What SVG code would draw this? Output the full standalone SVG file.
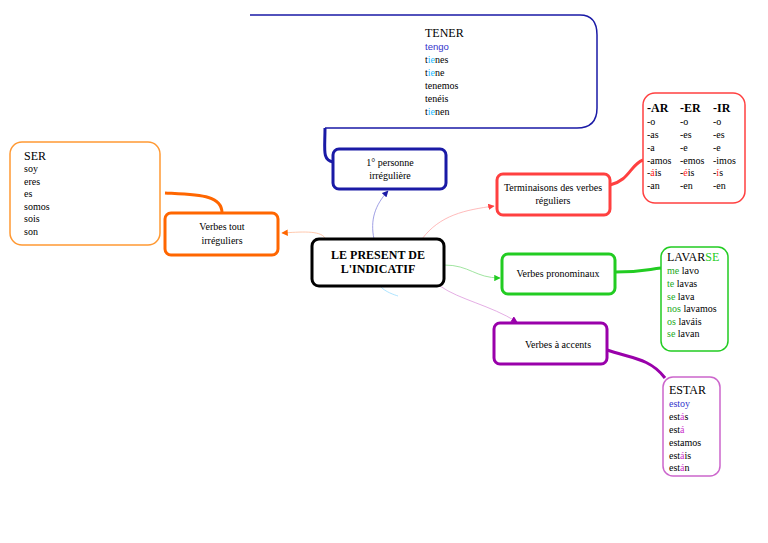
<svg xmlns="http://www.w3.org/2000/svg" width="768" height="543" viewBox="0 0 768 543">
<style>
text{font-family:"Liberation Serif",serif;font-size:10px;fill:#000}
.t{font-size:12px}
.c{text-anchor:middle}
.b{fill:#fff;stroke-width:3}
.s{fill:#fff;stroke-width:1.5}
</style>
<defs>
<marker id="ab" viewBox="0 0 10 10" refX="9" refY="5" markerWidth="8" markerHeight="8" orient="auto"><path d="M0,0L10,5L0,10z" fill="#1a1aa6"/></marker>
<marker id="ar" viewBox="0 0 10 10" refX="9" refY="5" markerWidth="8" markerHeight="8" orient="auto"><path d="M0,0L10,5L0,10z" fill="#ff4040"/></marker>
<marker id="ag" viewBox="0 0 10 10" refX="9" refY="5" markerWidth="8" markerHeight="8" orient="auto"><path d="M0,0L10,5L0,10z" fill="#22cc22"/></marker>
<marker id="ap" viewBox="0 0 10 10" refX="9" refY="5" markerWidth="8" markerHeight="8" orient="auto"><path d="M0,0L10,5L0,10z" fill="#9900aa"/></marker>
<marker id="ao" viewBox="0 0 10 10" refX="9" refY="5" markerWidth="8" markerHeight="8" orient="auto"><path d="M0,0L10,5L0,10z" fill="#ff6600"/></marker>
</defs>
<g id="connectors" fill="none">
<path d="M374,239 C370,220 375,205 388,191" stroke="#8888dd" stroke-width="0.8" marker-end="url(#ab)"/>
<path d="M422,239 C440,215 465,210 494,206" stroke="#ffaaaa" stroke-width="0.8" marker-end="url(#ar)"/>
<path d="M444,265 C470,265 475,278 500,278" stroke="#88dd88" stroke-width="0.8" marker-end="url(#ag)"/>
<path d="M440,286 C460,300 490,305 517,322" stroke="#dd99dd" stroke-width="0.8" marker-end="url(#ap)"/>
<path d="M325,238 C320,230 300,232 282,233" stroke="#ffbb99" stroke-width="0.8" marker-end="url(#ao)"/>
<path d="M380,286 C385,292 395,295 398,296" stroke="#99ddff" stroke-width="0.8"/>
<path d="M333,162 C322,160 325,150 325,128" stroke="#1a1aa6" stroke-width="3"/>
<path d="M610,185 C630,180 630,165 643,160" stroke="#ff4040" stroke-width="3"/>
<path d="M615,272 C640,272 645,270 661,268" stroke="#22cc22" stroke-width="3"/>
<path d="M607,350 C630,358 650,358 665,378" stroke="#9900aa" stroke-width="3"/>
<path d="M222,213 C222,195 200,195 165,193" stroke="#ff6600" stroke-width="3"/>
</g>
<g id="tener">
<path d="M250,15 H580 Q597,15 597,35 V108 Q597,128 577,128 H325" fill="#fff" stroke="#1a1aa6" stroke-width="1.5"/>
<text x="425" y="37" class="t">TENER</text>
<text x="425" y="50" fill="#3333cc" style="fill:#3333cc;font-family:'Liberation Sans',sans-serif;font-size:9.5px">tengo</text>
<text x="425" y="63">t<tspan style="fill:#22bbff">ie</tspan>nes</text>
<text x="425" y="76">t<tspan style="fill:#22bbff">ie</tspan>ne</text>
<text x="425" y="89">tenemos</text>
<text x="425" y="102">tenéis</text>
<text x="425" y="115">t<tspan style="fill:#22bbff">ie</tspan>nen</text>
</g>
<g id="premiere">
<rect x="333" y="149" width="113" height="40" rx="6" class="b" stroke="#1a1aa6"/>
<text x="390" y="166" class="c">1° personne</text>
<text x="390" y="179" class="c">irrégulière</text>
</g>
<g id="centre">
<rect x="312" y="239" width="132" height="47" rx="7" class="b" stroke="#000"/>
<text x="378" y="259" class="c t" font-weight="bold">LE PRESENT DE</text>
<text x="378" y="273" class="c t" font-weight="bold">L'INDICATIF</text>
</g>
<g id="terminaisons">
<rect x="497" y="174" width="113" height="41" rx="6" class="b" stroke="#ff4040"/>
<text x="553" y="191" class="c">Terminaisons des verbes</text>
<text x="553" y="204" class="c">réguliers</text>
</g>
<g id="tableau">
<rect x="643" y="93" width="102" height="110" rx="12" class="s" stroke="#ff4040"/>
<g class="t" font-weight="bold"><text x="647" y="112" class="t" font-weight="bold">-AR</text><text x="680" y="112" class="t" font-weight="bold">-ER</text><text x="713" y="112" class="t" font-weight="bold">-IR</text></g>
<text x="647" y="125">-o</text><text x="680" y="125">-o</text><text x="713" y="125">-o</text>
<text x="647" y="138">-as</text><text x="680" y="138">-es</text><text x="713" y="138">-es</text>
<text x="647" y="151">-a</text><text x="680" y="151">-e</text><text x="713" y="151">-e</text>
<text x="647" y="164">-amos</text><text x="680" y="164">-emos</text><text x="713" y="164">-imos</text>
<text x="647" y="176">-<tspan style="fill:#ff2020">á</tspan>is</text><text x="680" y="176">-<tspan style="fill:#ff2020">é</tspan>is</text><text x="713" y="176">-<tspan style="fill:#ff2020">í</tspan>s</text>
<text x="647" y="189">-an</text><text x="680" y="189">-en</text><text x="713" y="189">-en</text>
</g>
<g id="pronominaux">
<rect x="502" y="254" width="113" height="40" rx="6" class="b" stroke="#22cc22"/>
<text x="558" y="277" class="c">Verbes pronominaux</text>
</g>
<g id="lavarse">
<rect x="661" y="247" width="67" height="104" rx="10" class="s" stroke="#22cc22"/>
<text x="667" y="261" class="t">LAVAR<tspan style="fill:#22cc22">SE</tspan></text>
<text x="667" y="274"><tspan style="fill:#22aa22">me</tspan> lavo</text>
<text x="667" y="287"><tspan style="fill:#22aa22">te</tspan> lavas</text>
<text x="667" y="300"><tspan style="fill:#22aa22">se</tspan> lava</text>
<text x="667" y="312"><tspan style="fill:#22aa22">nos</tspan> lavamos</text>
<text x="667" y="325"><tspan style="fill:#22aa22">os</tspan> laváis</text>
<text x="667" y="337"><tspan style="fill:#22aa22">se</tspan> lavan</text>
</g>
<g id="accents">
<rect x="494" y="323" width="113" height="41" rx="6" class="b" stroke="#9900aa"/>
<text x="558" y="348" class="c">Verbes à accents</text>
</g>
<g id="estar">
<rect x="663" y="377" width="57" height="99" rx="10" class="s" stroke="#cc66cc"/>
<text x="669" y="394" class="t">ESTAR</text>
<text x="669" y="407" style="fill:#3333cc">estoy</text>
<text x="669" y="420">est<tspan style="fill:#cc33cc">á</tspan>s</text>
<text x="669" y="433">est<tspan style="fill:#cc33cc">á</tspan></text>
<text x="669" y="446">estamos</text>
<text x="669" y="459">est<tspan style="fill:#cc33cc">á</tspan>is</text>
<text x="669" y="471">est<tspan style="fill:#cc33cc">á</tspan>n</text>
</g>
<g id="irreguliers">
<rect x="165" y="213" width="113" height="42" rx="6" class="b" stroke="#ff6600"/>
<text x="222" y="230" class="c">Verbes tout</text>
<text x="222" y="244" class="c">irréguliers</text>
</g>
<g id="ser">
<rect x="10" y="142" width="150" height="103" rx="12" class="s" stroke="#ff9933"/>
<text x="24" y="160" class="t">SER</text>
<text x="24" y="172">soy</text>
<text x="24" y="185">eres</text>
<text x="24" y="197">es</text>
<text x="24" y="210">somos</text>
<text x="24" y="222">sois</text>
<text x="24" y="235">son</text>
</g>
</svg>
